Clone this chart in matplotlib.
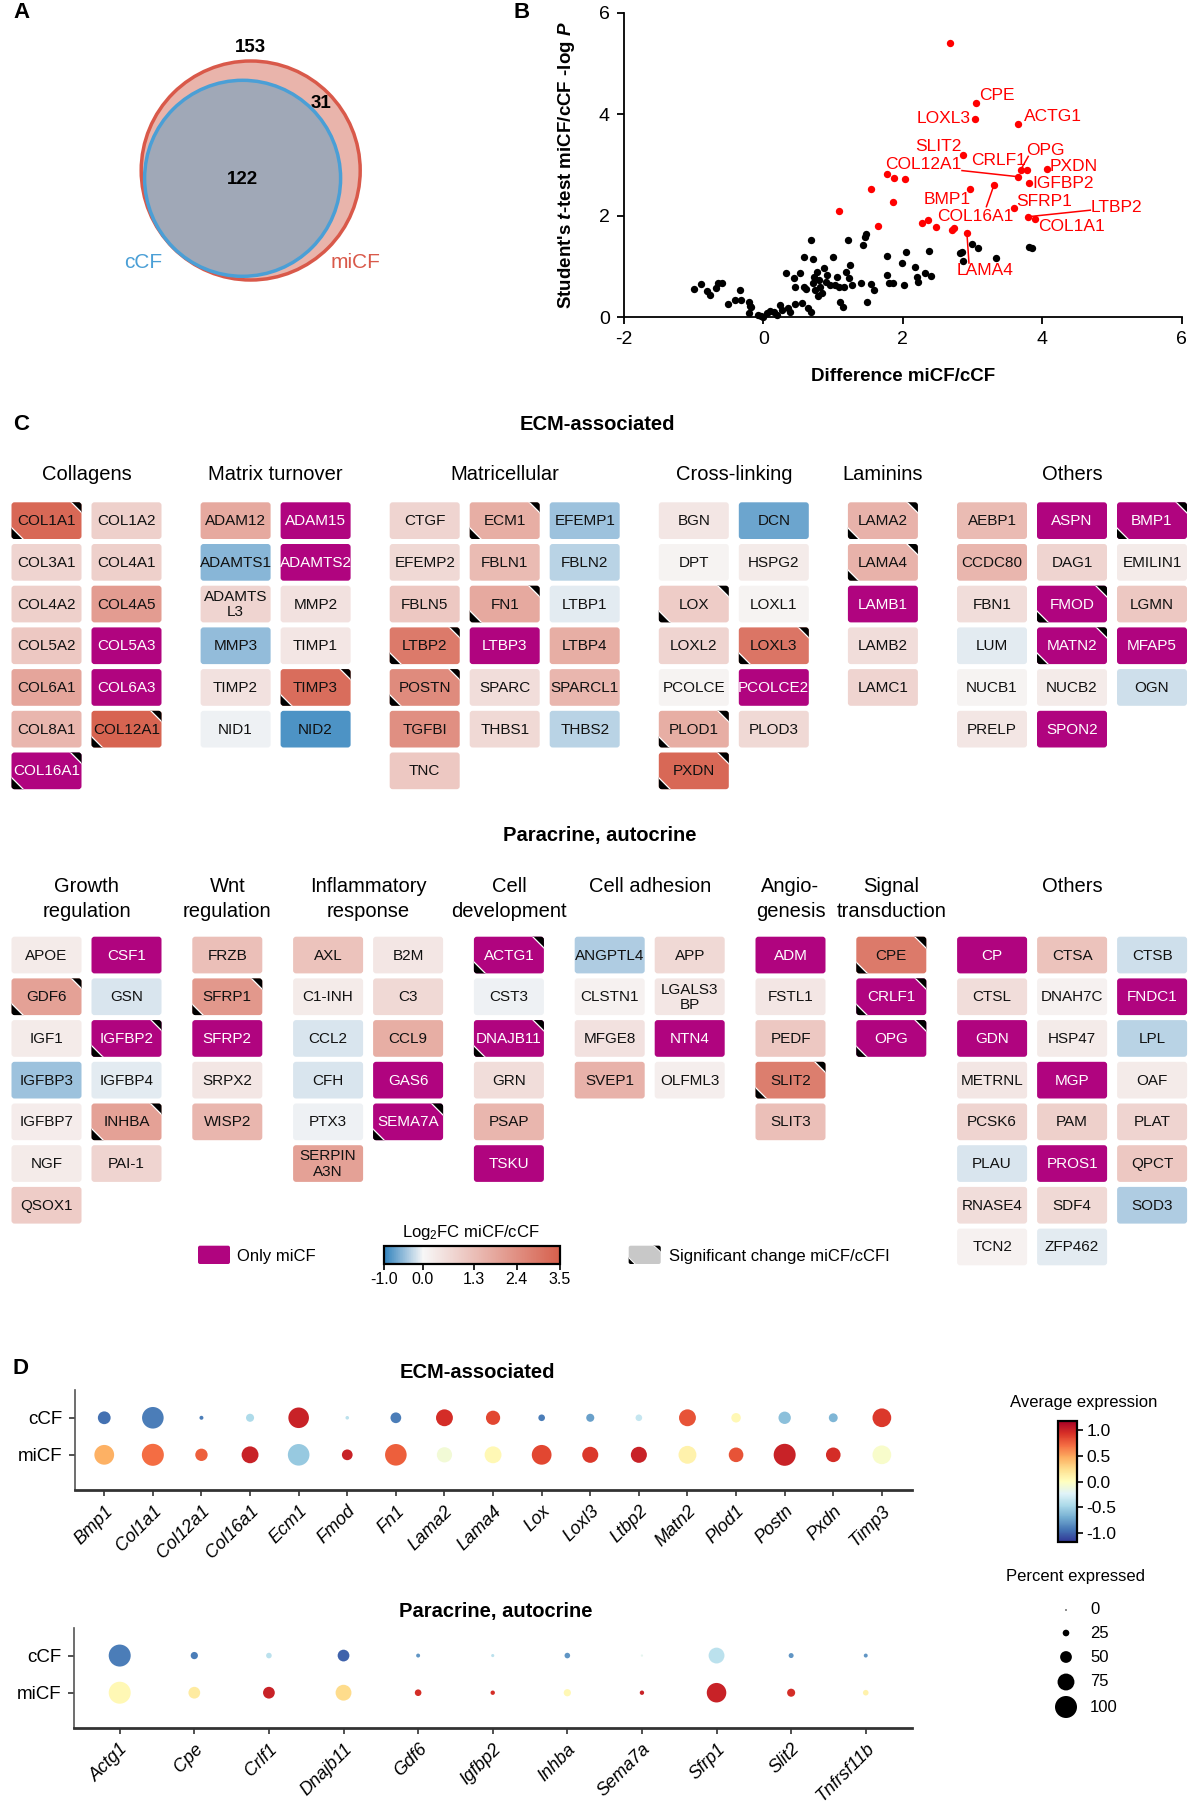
import numpy as np
import matplotlib
matplotlib.use('Agg')
import matplotlib.pyplot as plt
from matplotlib.patches import FancyBboxPatch, Polygon, Circle
from matplotlib.colors import LinearSegmentedColormap, Normalize
from matplotlib.cm import ScalarMappable

plt.rcParams['font.family'] = ['Liberation Sans', 'DejaVu Sans']
plt.rcParams['mathtext.fontset'] = 'custom'
plt.rcParams['mathtext.it'] = 'Liberation Sans:italic:bold'
plt.rcParams['mathtext.rm'] = 'Liberation Sans'
plt.rcParams['axes.unicode_minus'] = False

W, H = 1200, 1805

# ---------------- data ----------------
# A: Venn counts
venn_total, venn_only_micf, venn_shared = 153, 31, 122

# B: volcano
black_x = [-0.99, -0.89, -0.80, -0.76, -0.67, -0.65, -0.59, -0.50, -0.40, -0.33, -0.32, -0.21, -0.19,
           -0.17, -0.21, -0.07, -0.03, 0.00, 0.05, 0.10, 0.16, 0.20, 0.24, 0.27, 0.33, 0.36, 0.39, 0.44,
           0.45, 0.46, 0.53, 0.55, 0.58, 0.59, 0.62, 0.64, 0.68, 0.69, 0.71, 0.71, 0.73, 0.74, 0.77,
           0.78, 0.80, 0.82, 0.85, 0.87, 0.90, 0.92, 0.96, 1.00, 1.03, 1.06, 1.08, 1.10, 1.14, 1.16,
           1.19, 1.22, 1.23, 1.25, 1.28, 1.40, 1.43, 1.46, 1.48, 1.49, 1.55, 1.59, 1.78, 1.77, 1.81,
           1.86, 1.99, 2.02, 2.05, 2.18, 2.20, 2.22, 2.32, 2.37, 2.40, 2.82, 2.85, 2.87, 3.00, 3.08,
           3.34, 3.81, 3.86]
black_y = [0.55, 0.66, 0.51, 0.44, 0.57, 0.68, 0.68, 0.26, 0.34, 0.54, 0.34, 0.31, 0.22,
           0.21, 0.08, 0.05, 0.03, 0.01, 0.08, 0.13, 0.11, 0.05, 0.24, 0.14, 0.88, 0.18, 0.11, 0.77,
           0.60, 0.26, 0.88, 0.28, 0.60, 1.18, 0.55, 0.18, 0.11, 1.52, 1.15, 0.67, 0.80, 0.54, 0.90,
           0.41, 0.74, 0.60, 0.47, 0.97, 0.70, 0.83, 0.64, 1.19, 0.64, 0.80, 0.60, 0.31, 0.21, 0.60,
           0.90, 1.52, 0.77, 1.03, 0.64, 0.68, 1.42, 1.58, 1.65, 0.31, 0.66, 0.53, 1.21, 0.83, 0.68,
           0.67, 1.06, 0.64, 1.28, 1.00, 0.80, 0.70, 0.88, 1.31, 0.81, 1.27, 1.29, 1.10, 1.44, 1.36,
           1.16, 1.38, 1.36]
red_x = [2.68, 1.78, 1.87, 2.03, 1.55, 1.86, 1.08, 1.64, 2.28, 2.36, 2.48, 2.70, 2.74]
red_y = [5.41, 2.82, 2.75, 2.72, 2.52, 2.27, 2.09, 1.79, 1.85, 1.92, 1.77, 1.72, 1.75]
lab_names = ['CPE', 'LOXL3', 'ACTG1', 'SLIT2', 'OPG', 'CRLF1', 'PXDN', 'COL12A1', 'IGFBP2',
             'COL16A1', 'BMP1', 'SFRP1', 'LTBP2', 'COL1A1', 'LAMA4']
lab_x = [3.05, 3.04, 3.66, 2.87, 3.69, 3.78, 4.07, 3.65, 3.81, 3.31, 2.96, 3.59, 3.79, 3.89, 2.92]
lab_y = [4.23, 3.91, 3.81, 3.20, 2.90, 2.90, 2.93, 2.77, 2.64, 2.61, 2.52, 2.15, 1.98, 1.93, 1.67]

# C: tile overview (None = only in miCF)
ecm_groups = ['Collagens', 'Matrix turnover', 'Matricellular', 'Cross-linking', 'Laminins', 'Others']
ecm_ncols = [2, 2, 3, 2, 1, 3]
ecm_genes = [
    ['COL1A1', 'COL1A2', 'COL3A1', 'COL4A1', 'COL4A2', 'COL4A5', 'COL5A2', 'COL5A3', 'COL6A1',
     'COL6A3', 'COL8A1', 'COL12A1', 'COL16A1'],
    ['ADAM12', 'ADAM15', 'ADAMTS1', 'ADAMTS2', 'ADAMTS\nL3', 'MMP2', 'MMP3', 'TIMP1', 'TIMP2',
     'TIMP3', 'NID1', 'NID2'],
    ['CTGF', 'ECM1', 'EFEMP1', 'EFEMP2', 'FBLN1', 'FBLN2', 'FBLN5', 'FN1', 'LTBP1', 'LTBP2',
     'LTBP3', 'LTBP4', 'POSTN', 'SPARC', 'SPARCL1', 'TGFBI', 'THBS1', 'THBS2', 'TNC'],
    ['BGN', 'DCN', 'DPT', 'HSPG2', 'LOX', 'LOXL1', 'LOXL2', 'LOXL3', 'PCOLCE', 'PCOLCE2',
     'PLOD1', 'PLOD3', 'PXDN'],
    ['LAMA2', 'LAMA4', 'LAMB1', 'LAMB2', 'LAMC1'],
    ['AEBP1', 'ASPN', 'BMP1', 'CCDC80', 'DAG1', 'EMILIN1', 'FBN1', 'FMOD', 'LGMN', 'LUM',
     'MATN2', 'MFAP5', 'NUCB1', 'NUCB2', 'OGN', 'PRELP', 'SPON2'],
]
ecm_fc = [
    [3.3, 0.9, 0.8, 0.9, 0.9, 2.1, 1.1, None, 1.9, None, 1.5, 3.4, None],
    [1.8, None, -0.55, None, 0.8, 0.5, -0.5, 0.4, 0.5, 3.2, -0.05, -0.85],
    [0.8, 1.7, -0.45, 0.7, 1.4, -0.3, 1.1, 1.8, -0.1, 2.9, None, 1.7, 2.5, 0.6, 1.5, 2.4, 0.7,
     -0.3, 1.1],
    [0.4, -0.7, 0.1, 0.3, 1.0, 0.1, 0.8, 3.0, 0.1, None, 1.7, 0.7, 3.3],
    [1.6, 1.6, None, 0.6, 0.8],
    [1.4, None, None, 1.5, 0.8, 0.3, 0.6, None, 1.1, -0.1, None, None, 0.1, 0.3, -0.2, 0.4, None],
]
par_groups = ['Growth\nregulation', 'Wnt\nregulation', 'Inflammatory\nresponse', 'Cell\ndevelopment',
              'Cell adhesion', 'Angio-\ngenesis', 'Signal\ntransduction', 'Others']
par_ncols = [2, 1, 2, 1, 2, 1, 1, 3]
par_genes = [
    ['APOE', 'CSF1', 'GDF6', 'GSN', 'IGF1', 'IGFBP2', 'IGFBP3', 'IGFBP4', 'IGFBP7', 'INHBA',
     'NGF', 'PAI-1', 'QSOX1'],
    ['FRZB', 'SFRP1', 'SFRP2', 'SRPX2', 'WISP2'],
    ['AXL', 'B2M', 'C1-INH', 'C3', 'CCL2', 'CCL9', 'CFH', 'GAS6', 'PTX3', 'SEMA7A', 'SERPIN\nA3N'],
    ['ACTG1', 'CST3', 'DNAJB11', 'GRN', 'PSAP', 'TSKU'],
    ['ANGPTL4', 'APP', 'CLSTN1', 'LGALS3\nBP', 'MFGE8', 'NTN4', 'SVEP1', 'OLFML3'],
    ['ADM', 'FSTL1', 'PEDF', 'SLIT2', 'SLIT3'],
    ['CPE', 'CRLF1', 'OPG'],
    ['CP', 'CTSA', 'CTSB', 'CTSL', 'DNAH7C', 'FNDC1', 'GDN', 'HSP47', 'LPL', 'METRNL', 'MGP',
     'OAF', 'PCSK6', 'PAM', 'PLAT', 'PLAU', 'PROS1', 'QPCT', 'RNASE4', 'SDF4', 'SOD3', 'TCN2',
     'ZFP462'],
]
par_fc = [
    [0.3, None, 2.0, -0.15, 0.3, None, -0.45, -0.1, 0.25, 2.0, 0.3, 0.8, 1.0],
    [1.3, 2.2, None, 0.4, 1.5],
    [1.2, 0.4, 0.3, 0.7, -0.15, 1.7, -0.15, None, -0.05, None, 2.0],
    [None, -0.05, None, 0.6, 1.5, None],
    [-0.35, 0.7, 0.15, 0.4, 0.5, None, 1.6, 0.2],
    [None, 0.4, 1.1, 2.8, 1.3],
    [2.9, None, None],
    [None, 1.2, -0.2, 0.6, 0.15, None, None, 0.3, -0.3, 0.4, None, 0.3, 0.8, 0.9, 0.8, -0.15,
     None, 1.1, 0.6, 0.7, -0.35, 0.15, -0.1],
]
significant = {'COL1A1', 'COL12A1', 'COL16A1', 'TIMP3', 'ECM1', 'FN1', 'LTBP2', 'POSTN', 'LOX',
               'LOXL3', 'PLOD1', 'PXDN', 'LAMA2', 'LAMA4', 'BMP1', 'FMOD', 'MATN2', 'GDF6',
               'IGFBP2', 'INHBA', 'SFRP1', 'SEMA7A', 'ACTG1', 'DNAJB11', 'SLIT2', 'CPE',
               'CRLF1', 'OPG'}
fc_ticks = [-1.0, 0.0, 1.3, 2.4, 3.5]

# D: dot plots
ecm_dot_genes = ['Bmp1', 'Col1a1', 'Col12a1', 'Col16a1', 'Ecm1', 'Fmod', 'Fn1', 'Lama2', 'Lama4',
                 'Lox', 'Loxl3', 'Ltbp2', 'Matn2', 'Plod1', 'Postn', 'Pxdn', 'Timp3']
ecm_avg_ccf = [-0.95, -0.9, -0.9, -0.45, 1.0, -0.4, -0.9, 0.95, 0.85, -0.9, -0.75, -0.35, 0.8,
               0.05, -0.6, -0.65, 0.9]
ecm_avg_micf = [0.45, 0.7, 0.75, 1.0, -0.55, 1.0, 0.75, -0.1, 0.05, 0.85, 0.9, 1.0, 0.1, 0.8,
                1.0, 0.95, -0.05]
ecm_pct_ccf = [55, 98, 12, 32, 93, 10, 45, 75, 62, 25, 32, 25, 75, 39, 53, 36, 84]
ecm_pct_micf = [89, 100, 53, 75, 98, 45, 98, 67, 75, 89, 71, 71, 80, 64, 100, 64, 84]

par_dot_genes = ['Actg1', 'Cpe', 'Crlf1', 'Dnajb11', 'Gdf6', 'Igfbp2', 'Inhba', 'Sema7a', 'Sfrp1',
                 'Slit2', 'Tnfrsf11b']
par_avg_ccf = [-0.9, -0.9, -0.4, -1.0, -0.8, -0.4, -0.8, -0.2, -0.4, -0.8, -0.8]
par_avg_micf = [0.05, 0.15, 1.0, 0.25, 0.95, 0.95, 0.05, 1.0, 1.0, 0.95, 0.1]
par_pct_ccf = [100, 28, 20, 50, 12, 8, 20, 4, 70, 17, 12]
par_pct_micf = [100, 50, 50, 70, 25, 14, 28, 14, 88, 32, 20]
pct_legend = [0, 25, 50, 75, 100]

# ---------------- styles ----------------
MAGENTA = '#b0047f'
fc_cmap = LinearSegmentedColormap.from_list(
    'fc', [(0.0, '#3182bd'), (1.0 / 4.5, '#f7f7f7'), (1.0, '#d6604d')])
fc_norm = Normalize(vmin=-1.0, vmax=3.5)
expr_cmap = plt.get_cmap('RdYlBu_r')
expr_norm = Normalize(vmin=-1.17, vmax=1.17)


def fig_rect(x0, y0, x1, y1):
    return [x0 / W, 1 - y1 / H, (x1 - x0) / W, (y1 - y0) / H]


def dot_size(p):
    d_px = 1.5 + 20.5 * np.asarray(p) / 100.0
    return (d_px * 0.72) ** 2


fig = plt.figure(figsize=(12, 18.05), dpi=100)
canvas = fig.add_axes([0, 0, 1, 1])
canvas.set_xlim(0, W)
canvas.set_ylim(H, 0)
canvas.axis('off')

# panel letters
for letter, x, y in [('A', 21, 13), ('B', 522, 13), ('C', 21, 425), ('D', 21, 1369)]:
    canvas.text(x, y, letter, fontsize=16, fontweight='bold', ha='center', va='center')

# ---------------- A: Venn ----------------
canvas.add_patch(Circle((250.7, 170.5), 109.5, fc='#e9b4ab', ec='#d9594a', lw=2.5))
canvas.add_patch(Circle((242.6, 178.3), 98, fc='#a0a8b7', ec='#4a9fd6', lw=2.5))
canvas.text(250.7, 47, str(venn_total), fontsize=13.5, fontweight='bold', ha='center', va='center')
canvas.text(320.7, 104, str(venn_only_micf), fontsize=13.5, fontweight='bold', ha='center', va='center')
canvas.text(242.2, 179, str(venn_shared), fontsize=13.5, fontweight='bold', ha='center', va='center')
canvas.text(143.5, 262, 'cCF', fontsize=15, color='#4a9fd6', ha='center', va='center')
canvas.text(356, 262, 'miCF', fontsize=15, color='#d9594a', ha='center', va='center')

# ---------------- B: volcano ----------------
axB = fig.add_axes(fig_rect(623.7, 12.7, 1181.7, 317.3))
axB.scatter(black_x, black_y, s=28, color='black', zorder=3, clip_on=False, linewidths=0)
axB.scatter(red_x, red_y, s=28, color='red', zorder=3, clip_on=False, linewidths=0)
axB.scatter(lab_x, lab_y, s=28, color='red', zorder=3, clip_on=False, linewidths=0)
lab_text = {
    'CPE': (3.09, 4.37, 'left'), 'LOXL3': (2.98, 3.92, 'right'), 'ACTG1': (3.74, 3.95, 'left'),
    'SLIT2': (2.85, 3.37, 'right'), 'OPG': (3.77, 3.28, 'left'), 'CRLF1': (2.98, 3.09, 'left'),
    'PXDN': (4.11, 2.97, 'left'), 'COL12A1': (2.85, 3.01, 'right'), 'IGFBP2': (3.86, 2.63, 'left'),
    'COL16A1': (2.50, 1.98, 'left'), 'BMP1': (2.98, 2.32, 'right'), 'SFRP1': (3.63, 2.28, 'left'),
    'LTBP2': (4.69, 2.17, 'left'), 'COL1A1': (3.94, 1.79, 'left'), 'LAMA4': (2.77, 0.93, 'left'),
}
connectors = {'OPG': (3.80, 3.17), 'COL12A1': (2.85, 2.89), 'COL16A1': (3.20, 2.18),
              'LTBP2': (4.69, 2.11), 'LAMA4': (2.95, 1.07)}
for name, px, py in zip(lab_names, lab_x, lab_y):
    tx, ty, ha = lab_text[name]
    axB.text(tx, ty, name, color='red', fontsize=12.5, ha=ha, va='center')
    if name in connectors:
        cx, cy = connectors[name]
        axB.plot([px, cx], [py, cy], color='red', lw=1.1)
axB.set_xlim(-2, 6)
axB.set_ylim(0, 6)
axB.set_xticks([-2, 0, 2, 4, 6])
axB.set_yticks([0, 2, 4, 6])
for s in ['top', 'right']:
    axB.spines[s].set_visible(False)
for s in ['left', 'bottom']:
    axB.spines[s].set_linewidth(1.3)
axB.tick_params(direction='out', length=5, width=1.3, labelsize=14, pad=5)
axB.set_xlabel('Difference miCF/cCF', fontsize=13.5, fontweight='bold', labelpad=14)
axB.set_ylabel("Student's $t$-test miCF/cCF -log $P$", fontsize=13.5, fontweight='bold', labelpad=16)

# ---------------- C: tiles ----------------
TILE_W, TILE_H = 70, 36.7
PITCH_X, PITCH_Y = 80, 41.7
TRI = 13


def draw_tile(x, y, name, fc):
    only = fc is None
    color = MAGENTA if only else fc_cmap(fc_norm(fc))
    box = FancyBboxPatch((x, y), TILE_W, TILE_H, boxstyle='round,pad=0,rounding_size=3',
                         fc=color, ec='none')
    canvas.add_patch(box)
    canvas.text(x + TILE_W / 2, y + TILE_H / 2 + 0.5, name, fontsize=11, ha='center', va='center',
                color='white' if only else '#111111', linespacing=1.1)
    if name in significant:
        for pts in ([(x + TILE_W - TRI, y - 2), (x + TILE_W + 2, y - 2), (x + TILE_W + 2, y + TRI)],
                    [(x - 2, y + TILE_H - TRI), (x - 2, y + TILE_H + 2), (x + TRI, y + TILE_H + 2)]):
            tri = Polygon(pts, closed=True, fc='black', ec='white', lw=0.9)
            canvas.add_patch(tri)
            tri.set_clip_path(box)


def draw_section(groups, ncols, genes, fcs, gap, header_y, tile_top):
    col = 0
    for g, (title, nc, gl, fl) in enumerate(zip(groups, ncols, genes, fcs)):
        left = 11.5 + col * PITCH_X + g * gap
        for i, (gene, fc) in enumerate(zip(gl, fl)):
            r, c = divmod(i, nc)
            draw_tile(left + c * PITCH_X, tile_top + r * PITCH_Y, gene, fc)
        center = left + (nc * PITCH_X - (PITCH_X - TILE_W)) / 2
        for k, line in enumerate(title.split('\n')):
            canvas.text(center, header_y + k * 25.7, line, fontsize=14.5, ha='center', va='center')
        col += nc


canvas.text(597, 425, 'ECM-associated', fontsize=14.5, fontweight='bold', ha='center', va='center')
draw_section(ecm_groups, ecm_ncols, ecm_genes, ecm_fc, 29.1, 475, 502.3)
canvas.text(600, 835, 'Paracrine, autocrine', fontsize=14.5, fontweight='bold', ha='center', va='center')
draw_section(par_groups, par_ncols, par_genes, par_fc, 20.8, 886, 936.7)

# legends for C
canvas.add_patch(FancyBboxPatch((198, 1245.7), 32, 18.3, boxstyle='round,pad=0,rounding_size=2',
                                fc=MAGENTA, ec='none'))
canvas.text(237, 1256, 'Only miCF', fontsize=12, ha='left', va='center')
sig_box = FancyBboxPatch((628.7, 1245.7), 32, 18.3, boxstyle='round,pad=0,rounding_size=2',
                         fc='#c8c8c8', ec='none')
canvas.add_patch(sig_box)
for pts in ([(652, 1244), (662, 1244), (662, 1253)], [(627, 1256), (627, 1266), (637, 1266)]):
    tri = Polygon(pts, closed=True, fc='black', ec='white', lw=0.7)
    canvas.add_patch(tri)
    tri.set_clip_path(sig_box)
canvas.text(669, 1256, 'Significant change miCF/cCFI', fontsize=12, ha='left', va='center')
canvas.text(471, 1233, 'Log$_\\mathrm{2}$FC miCF/cCF', fontsize=12, ha='center', va='center')
cax_fc = fig.add_axes(fig_rect(384, 1245.7, 559.5, 1264))
cb_fc = fig.colorbar(ScalarMappable(norm=fc_norm, cmap=fc_cmap), cax=cax_fc, orientation='horizontal')
cb_fc.set_ticks(fc_ticks)
cb_fc.set_ticklabels([f'{t:.1f}' for t in fc_ticks])
cb_fc.outline.set_linewidth(1.6)
cax_fc.tick_params(labelsize=11.5, length=4, width=1.2, pad=2)

# ---------------- D: dot plots ----------------


def dot_plot(rect, genes, avg_c, avg_m, pct_c, pct_m, title, title_xy):
    ax = fig.add_axes(rect)
    x = np.arange(len(genes))
    ax.scatter(x, np.ones_like(x), s=dot_size(pct_c), c=avg_c, cmap=expr_cmap, norm=expr_norm,
               linewidths=0)
    ax.scatter(x, np.zeros_like(x), s=dot_size(pct_m), c=avg_m, cmap=expr_cmap, norm=expr_norm,
               linewidths=0)
    ax.set_xlim(-0.61, len(genes) - 1 + 0.62)
    ax.set_ylim(-0.95, 1.75)
    ax.set_yticks([1, 0])
    ax.set_yticklabels(['cCF', 'miCF'], fontsize=13.5)
    ax.set_xticks(x)
    ax.set_xticklabels(genes, fontsize=13, fontstyle='italic', rotation=45, ha='right',
                       rotation_mode='anchor')
    for s in ['top', 'right']:
        ax.spines[s].set_visible(False)
    ax.spines['left'].set_color('#555555')
    ax.spines['left'].set_linewidth(1.2)
    ax.spines['bottom'].set_color('#333333')
    ax.spines['bottom'].set_linewidth(2.0)
    ax.tick_params(axis='both', length=4, width=1.2, color='#333333', pad=5)
    canvas.text(title_xy[0], title_xy[1], title, fontsize=14.5, fontweight='bold', ha='center',
                va='center')
    return ax


dot_plot(fig_rect(74.6, 1390, 912, 1490), ecm_dot_genes, ecm_avg_ccf, ecm_avg_micf,
         ecm_pct_ccf, ecm_pct_micf, 'ECM-associated', (477, 1373))
dot_plot(fig_rect(74.2, 1627.7, 912, 1728), par_dot_genes, par_avg_ccf, par_avg_micf,
         par_pct_ccf, par_pct_micf, 'Paracrine, autocrine', (496, 1612))

# average expression colorbar
canvas.text(1084, 1403, 'Average expression', fontsize=12, ha='center', va='center')
cax_e = fig.add_axes(fig_rect(1058, 1421, 1076.5, 1542))
cb_e = fig.colorbar(ScalarMappable(norm=expr_norm, cmap=expr_cmap), cax=cax_e)
cb_e.set_ticks([-1.0, -0.5, 0.0, 0.5, 1.0])
cb_e.set_ticklabels(['-1.0', '-0.5', '0.0', '0.5', '1.0'])
cb_e.outline.set_linewidth(1.6)
cax_e.tick_params(labelsize=12.5, length=4, width=1.2, pad=3)

# percent expressed legend
canvas.text(1076, 1577, 'Percent expressed', fontsize=12, ha='center', va='center')
leg_y = [1610, 1633, 1657, 1682, 1707]
canvas.scatter([1066] * len(pct_legend), leg_y, s=dot_size(pct_legend), color='black', linewidths=0)
for p, y in zip(pct_legend, leg_y):
    canvas.text(1090, y, str(p), fontsize=12, ha='left', va='center')

fig.savefig('out.png', dpi=100, facecolor='white')
